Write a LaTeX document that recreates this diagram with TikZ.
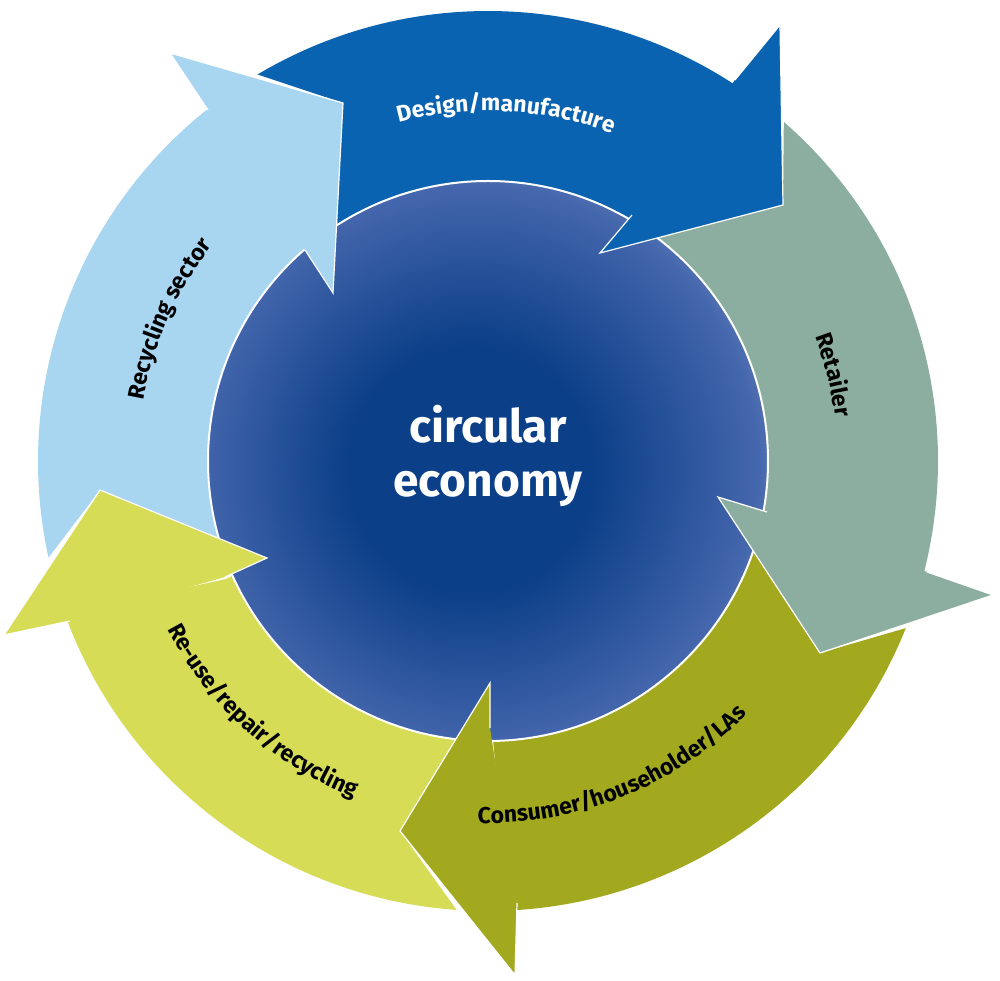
\documentclass[tikz,border=0pt]{standalone}
\usepackage{fontspec}
\setmainfont{Fira Sans}
\usetikzlibrary{decorations.text}
\definecolor{cRec}{HTML}{A8D5F0}
\definecolor{cDes}{HTML}{0A63B1}
\definecolor{cRet}{HTML}{8CAEA0}
\definecolor{cCon}{HTML}{A2A91F}
\definecolor{cReu}{HTML}{D6DC55}
\definecolor{cIn}{HTML}{0B3F88}
\definecolor{cMid}{HTML}{4466AC}
\definecolor{cOut}{HTML}{A8B4DC}
\pgfdeclareradialshading{coreshade}{\pgfpoint{-2bp}{-1bp}}{color(0bp)=(cIn); color(11bp)=(cIn); color(25bp)=(cMid); color(34bp)=(cOut); color(50bp)=(cOut)}
\tikzset{
  body/.style={fill=#1, draw=none},
  headfill/.style={fill=#1, draw=none},
  headline/.style={draw=white, line width=1.2pt, line join=miter},
  lbl/.style={decorate, decoration={text along path, text align=center}},
}
\begin{document}
\begin{tikzpicture}[x=1pt,y=1pt]
\useasboundingbox (-488,-520) rectangle (512,461);
% bodies
\path[body=cRec] (-388,-29) -- (192.4:450) arc[start angle=192.4,end angle=127.4,radius=450] -- (-181,213) -- (130.9:250) arc[start angle=130.9,end angle=203.7,radius=250] -- (-221,-97) -- cycle;
\path[body=cDes] (-145,358) -- (120.8:450) arc[start angle=120.8,end angle=55.8,radius=450] -- (146,244) -- (59.7:250) arc[start angle=59.7,end angle=132.7,radius=250] -- (-155,168) -- cycle;
\path[body=cRet] (295,256) -- (48.9:450) arc[start angle=48.9,end angle=-15.4,radius=450] -- (279,-53) -- (-10.4:250) arc[start angle=-10.4,end angle=61.7,radius=250] -- (112,208) -- cycle;
\path[body=cCon] (332,-192) -- (-21.8:450) arc[start angle=-21.8,end angle=-87.4,radius=450] -- (4,-267) -- (-90:250) arc[start angle=-90,end angle=-8.9,radius=250] -- (230,-36) -- cycle;
\path[body=cReu] (-88,-370) -- (266:450) arc[start angle=266,end angle=199.9,radius=450] -- (-262,-118) -- (203.8:250) arc[start angle=203.8,end angle=270,radius=250] -- (2,-222) -- cycle;
% core
\node[circle, minimum size=560pt, inner sep=0pt, shading=coreshade, draw=white, line width=2pt] (core) at (0,0) {};
% heads
\fill[headfill=cRec] (-280,351) -- (-318,408) -- (-145,358) -- (-155,168) -- (-183,211) -- cycle;
\draw[headline] (-280,351) -- (-318,408) -- (-145,358) -- (-155,168) -- (-183,211);
\fill[headfill=cDes] (247,381) -- (292,436) -- (295,256) -- (112,208) -- (144,246) -- cycle;
\draw[headline] (247,381) -- (292,436) -- (295,256) -- (112,208) -- (144,246);
\fill[headfill=cRet] (439,-111) -- (505,-134) -- (332,-192) -- (230,-36) -- (279,-51) -- cycle;
\draw[headline] (439,-111) -- (505,-134) -- (332,-192) -- (230,-36) -- (279,-51);
\fill[headfill=cCon] (29,-442) -- (27,-514) -- (-88,-370) -- (2,-222) -- (2,-267) -- cycle;
\draw[headline] (29,-442) -- (27,-514) -- (-88,-370) -- (2,-222) -- (2,-267);
\fill[headfill=cReu] (-418,-160) -- (-484,-174) -- (-388,-29) -- (-221,-97) -- (-263,-116) -- cycle;
\draw[headline] (-418,-160) -- (-484,-174) -- (-388,-29) -- (-221,-97) -- (-263,-116);
% labels
\path[lbl, decoration={text={|\fontsize{23}{23}\selectfont\bfseries\color{white}|Design/manufacture}}] (127:350) arc[start angle=127,end angle=47,radius=350];
\path[lbl, decoration={text={|\fontsize{23}{23}\selectfont\bfseries|Retailer}}] (54:350) arc[start angle=54,end angle=-26,radius=350];
\path[lbl, decoration={text={|\fontsize{23}{23}\selectfont\bfseries|Recycling sector}}] (196:350) arc[start angle=196,end angle=116,radius=350];
\path[lbl, decoration={text={|\fontsize{23}{23}\selectfont\bfseries|Consumer/householder/LAs}}] (-113:362) arc[start angle=-113,end angle=-23,radius=362];
\path[lbl, decoration={text={|\fontsize{23}{23}\selectfont\bfseries|Re-use/repair/recycling}}] (183:362) arc[start angle=183,end angle=273,radius=362];
\node[text=white, font=\fontsize{46}{54}\selectfont\bfseries, align=center] (title) at (0,5) {circular\\economy};
\end{tikzpicture}
\end{document}
